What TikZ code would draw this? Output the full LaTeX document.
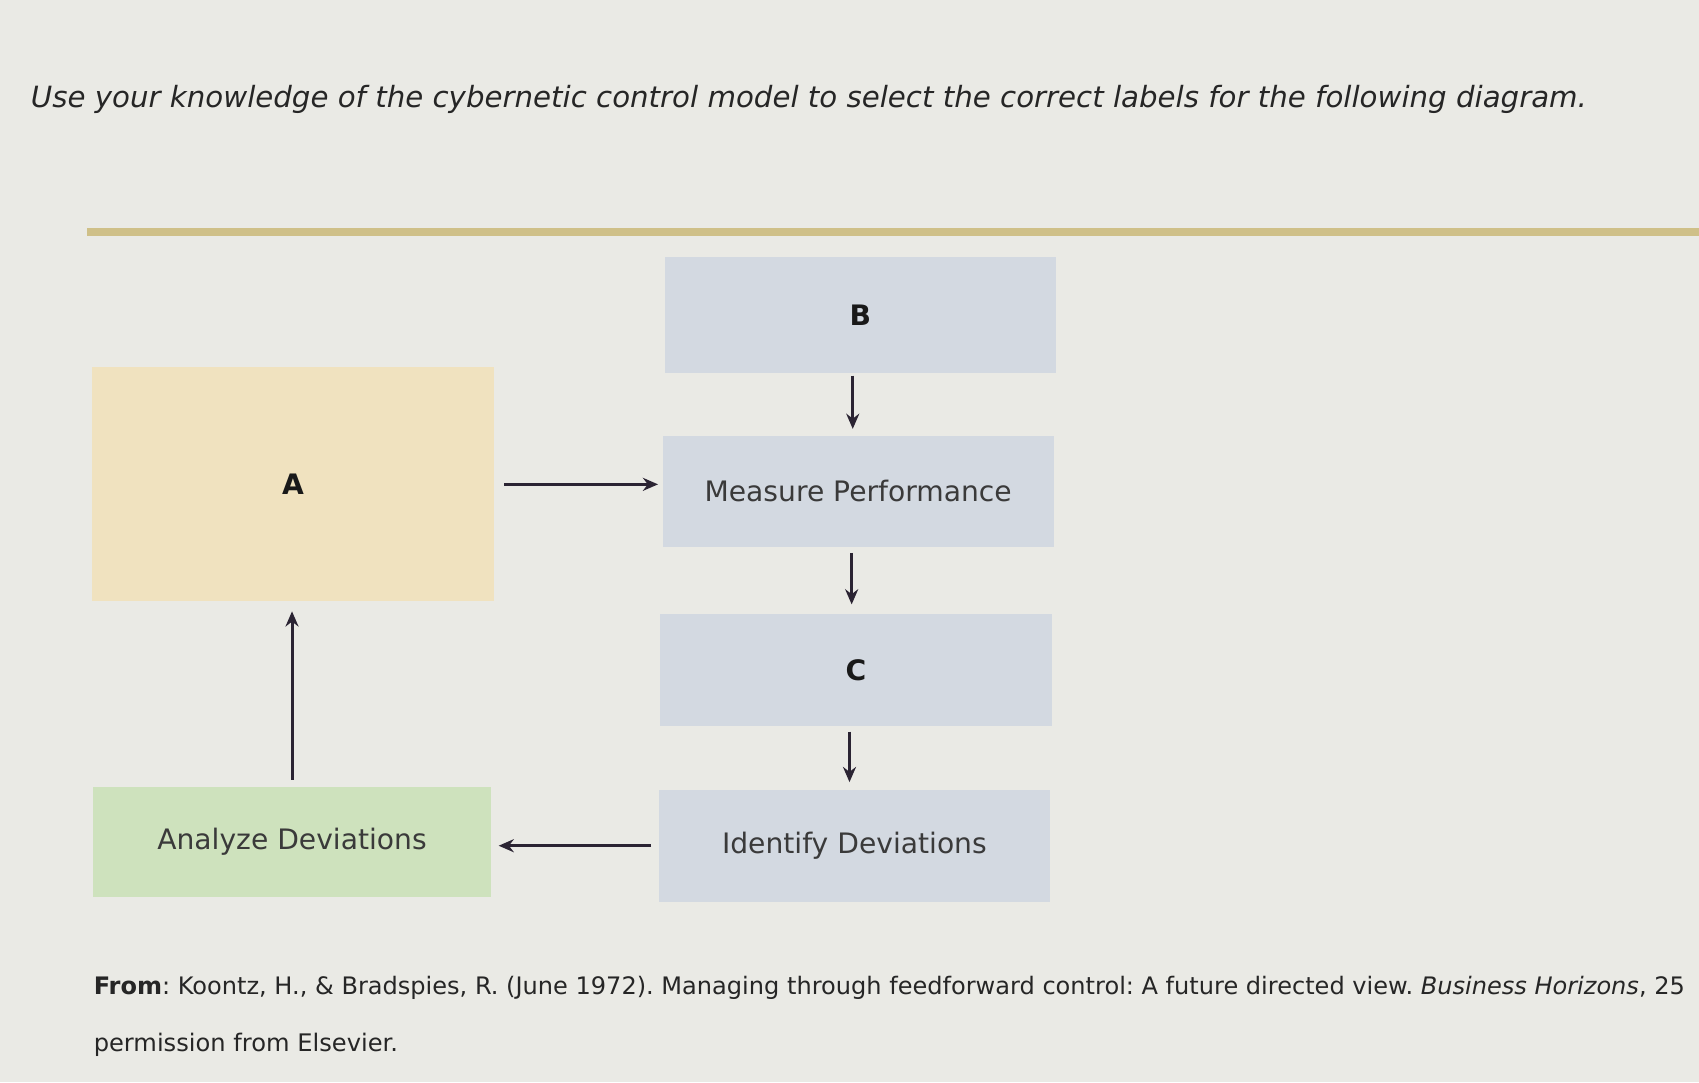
\documentclass[tikz,border=0pt]{standalone}
\usepackage{fontspec}
\setmainfont{DejaVu Sans}
\usetikzlibrary{arrows.meta}
\frenchspacing

\definecolor{screenbg}{HTML}{EAEAE5}
\definecolor{rulegold}{HTML}{CFC088}
\definecolor{stageblue}{HTML}{D3D9E1}
\definecolor{stagetan}{HTML}{F0E2BF}
\definecolor{stagegreen}{HTML}{CEE2BD}
\definecolor{arrowdark}{HTML}{2B2433}
\definecolor{labelgray}{HTML}{3A3A3A}

\tikzset{
  stage/.style={rectangle, inner sep=0pt, minimum width=361pt, minimum height=103pt,
    fill=stageblue, text=labelgray, font=\fontsize{26}{30}\selectfont},
  letter/.style={text=black!90, font=\fontsize{26}{30}\selectfont\bfseries},
  flow/.style={line width=2.8pt, draw=arrowdark, -{Stealth[length=14pt,width=12pt]}},
}

\begin{document}
\begin{tikzpicture}[x=1pt, y=-1pt]
			%%%%% START %%%%%
			
			\fill[screenbg] (0, 0) rectangle (1568, 999);
			\useasboundingbox (0, 0) rectangle (1568, 999);
			\clip (0, 0) rectangle (1568, 999);
			
			\node[anchor=base west, text=black!85, font=\fontsize{27}{32}\selectfont\itshape] (question) at (25, 99)
				{Use your knowledge of the cybernetic control model to select the correct labels for the following diagram.};
			
			\fill[rulegold] (80, 210) rectangle (1568, 218);
			
			\node[stage, letter, minimum height=107pt] (B) at (794, 291) {B};
			\node[stage] (measure) at (792, 453.5) {Measure Performance};
			\node[stage, letter] (C) at (790, 618.5) {C};
			\node[stage] (identify) at (788.5, 780.5) {Identify Deviations};
			
			\node[stage, letter, fill=stagetan, minimum width=371pt, minimum height=216pt] (A) at (270.5, 447) {A};
			\node[stage, fill=stagegreen, minimum width=367pt, minimum height=102pt] (analyze) at (269.5, 777) {Analyze Deviations};
			
			\draw[flow, shorten <=2pt, shorten >=6pt] ([xshift=-7pt]B.south) -- ([xshift=-7pt]B.south |- measure.north);
			\draw[flow, shorten <=5pt, shorten >=9pt] ([xshift=-6pt]measure.south) -- ([xshift=-6pt]measure.south |- C.north);
			\draw[flow, shorten <=5pt, shorten >=7pt] ([xshift=-6pt]C.south) -- ([xshift=-6pt]C.south |- identify.north);
			\draw[flow, shorten <=9pt, shorten >=4pt] (A.east) -- (A.east -| measure.west);
			\draw[flow, shorten <=7pt, shorten >=7pt] (identify.west) -- (identify.west -| analyze.east);
			\draw[flow, shorten <=6pt, shorten >=9pt] (analyze.north) -- (analyze.north |- A.south);
			
			\node[anchor=base west, text=black!85, font=\fontsize{22.2}{26}\selectfont] (source) at (83, 918)
				{\textbf{From}: Koontz, H., \& Bradspies, R. (June 1972). Managing through feedforward control: A future directed view. \textit{Business Horizons}, 25};
			\node[anchor=base west, text=black!85, font=\fontsize{22.3}{26}\selectfont] (permission) at (83, 970)
				{permission from Elsevier.};
			
			%%%%% END %%%%%
\end{tikzpicture}
\end{document}
